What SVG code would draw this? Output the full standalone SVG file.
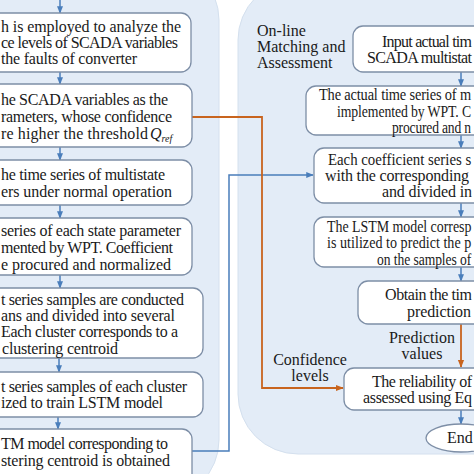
<svg xmlns="http://www.w3.org/2000/svg" width="474" height="474" viewBox="0 0 474 474">
<defs>
<style>
.panel{fill:#e3ecf7;stroke:#d4e0ee;stroke-width:1}
.box{fill:#ffffff;stroke:#7d8ea6;stroke-width:1.3}
.t{font-family:"Liberation Serif","Times New Roman",serif;font-size:16px;fill:#1a1a1a}
.m{text-anchor:middle}
.blue{fill:none;stroke:#4a7ebb;stroke-width:1.5}
.orange{fill:none;stroke:#c8641e;stroke-width:1.8}
</style>
<marker id="ab" viewBox="0 0 10 10" refX="9" refY="5" markerWidth="5" markerHeight="5" orient="auto"><path d="M0,1 L10,5 L0,9 z" fill="#4a7ebb"/></marker>
<marker id="ao" viewBox="0 0 10 10" refX="9" refY="5" markerWidth="4.5" markerHeight="4.5" orient="auto"><path d="M0,1 L10,5 L0,9 z" fill="#c8641e"/></marker>
</defs>
<rect width="474" height="474" fill="#ffffff"/>
<rect class="panel" x="-100" y="-40" width="319" height="540" rx="60"/>
<rect class="panel" x="238" y="-20" width="300" height="474" rx="60"/>

<g id="connectors">
<path class="blue" d="M60,0 V13" marker-end="url(#ab)"/>
<path class="blue" d="M60,72 V84" marker-end="url(#ab)"/>
<path class="blue" d="M60,147 V160" marker-end="url(#ab)"/>
<path class="blue" d="M60,205 V218" marker-end="url(#ab)"/>
<path class="blue" d="M60,275 V288" marker-end="url(#ab)"/>
<path class="blue" d="M59,358 V372" marker-end="url(#ab)"/>
<path class="blue" d="M58,417 V429" marker-end="url(#ab)"/>
<path class="blue" d="M461,72 V86" marker-end="url(#ab)"/>
<path class="blue" d="M461,135 V148" marker-end="url(#ab)"/>
<path class="blue" d="M461,203 V217" marker-end="url(#ab)"/>
<path class="blue" d="M461,267 V281" marker-end="url(#ab)"/>
<path class="blue" d="M461,410 V424" marker-end="url(#ab)"/>
<path class="blue" d="M192,451 H229 V175 H313" marker-end="url(#ab)"/>
<path class="orange" d="M192,117 H262 V388 H343" marker-end="url(#ao)"/>
<path class="orange" d="M461,324 V367" marker-end="url(#ao)"/>
</g>

<g id="labels">
<text class="t" x="257" y="36">On-line</text>
<text class="t" x="257" y="52">Matching and</text>
<text class="t" x="257" y="68">Assessment</text>
<text class="t m" x="422" y="343">Prediction</text>
<text class="t m" x="422" y="359">values</text>
<text class="t m" x="310" y="365">Confidence</text>
<text class="t m" x="310" y="381">levels</text>
</g>

<g id="node-l1">
<rect class="box" x="-80" y="13" width="271" height="59" rx="10"/>
<text class="t" x="1" y="32" textLength="180">h is employed to analyze the</text>
<text class="t" x="1" y="48" textLength="177">ce levels of SCADA variables</text>
<text class="t" x="1" y="64" textLength="136">the faults of converter</text>
</g>
<g id="node-l2">
<rect class="box" x="-80" y="84" width="272" height="63" rx="10"/>
<text class="t" x="1" y="105" textLength="167">he SCADA variables as the</text>
<text class="t" x="1" y="122" textLength="171">rameters, whose confidence</text>
<text class="t" x="1" y="139" textLength="147">re higher the threshold</text>
<text class="t" x="150" y="139" font-style="italic">Q<tspan font-size="10" dy="3">ref</tspan></text>
</g>
<g id="node-l3">
<rect class="box" x="-80" y="160" width="272" height="45" rx="10"/>
<text class="t" x="1" y="180" textLength="164">he time series of multistate</text>
<text class="t" x="1" y="197" textLength="171">ers under normal operation</text>
</g>
<g id="node-l4">
<rect class="box" x="-80" y="218" width="272" height="57" rx="10"/>
<text class="t" x="1" y="236" textLength="180">series of each state parameter</text>
<text class="t" x="1" y="253" textLength="172">mented by WPT. Coefficient</text>
<text class="t" x="1" y="270" textLength="170">e procured and normalized</text>
</g>
<g id="node-l5">
<rect class="box" x="-80" y="288" width="283" height="70" rx="10"/>
<text class="t" x="1" y="305" textLength="183">t series samples are conducted</text>
<text class="t" x="1" y="321" textLength="174">ans and divided into several</text>
<text class="t" x="1" y="337" textLength="177">Each cluster corresponds to a</text>
<text class="t" x="2" y="354" textLength="116">clustering centroid</text>
</g>
<g id="node-l6">
<rect class="box" x="-80" y="372" width="283" height="45" rx="10"/>
<text class="t" x="1" y="392" textLength="186">t series samples of each cluster</text>
<text class="t" x="1" y="408" textLength="162">ized to train LSTM model</text>
</g>
<g id="node-l7">
<rect class="box" x="-80" y="429" width="272" height="60" rx="10"/>
<text class="t" x="1" y="449" textLength="167">TM model corresponding to</text>
<text class="t" x="1" y="466" textLength="169">stering centroid is obtained</text>
</g>

<g id="node-r1">
<rect class="box" x="353" y="26" width="200" height="46" rx="10"/>
<text class="t" x="382" y="47" textLength="90">Input actual tim</text>
<text class="t" x="367" y="63" textLength="105">SCADA multistat</text>
</g>
<g id="node-r2">
<rect class="box" x="306" y="86" width="260" height="49" rx="10"/>
<text class="t" transform="translate(319,100) scale(0.9,1)" textLength="169">The actual time series of m</text>
<text class="t" transform="translate(337,117) scale(0.86,1)" textLength="156">implemented by WPT. C</text>
<text class="t" transform="translate(392,133) scale(0.85,1)" textLength="93">procured and n</text>
</g>
<g id="node-r3">
<rect class="box" x="314" y="148" width="250" height="55" rx="10"/>
<text class="t" transform="translate(328,165) scale(0.93,1)" textLength="154">Each coefficient series s</text>
<text class="t" x="325" y="181" textLength="144">with the corresponding</text>
<text class="t" x="382" y="197" textLength="90">and divided in</text>
</g>
<g id="node-r4">
<rect class="box" x="314" y="217" width="250" height="50" rx="10"/>
<text class="t" transform="translate(327,232) scale(0.87,1)" textLength="166">The LSTM model corresp</text>
<text class="t" transform="translate(327,248) scale(0.88,1)" textLength="164">is utilized to predict the p</text>
<text class="t" transform="translate(377,265) scale(0.85,1)" textLength="111">on the samples of</text>
</g>
<g id="node-r5">
<rect class="box" x="358" y="281" width="200" height="43" rx="10"/>
<text class="t" x="385" y="300" textLength="87">Obtain the tim</text>
<text class="t" x="407" y="317" textLength="64">prediction</text>
</g>
<g id="node-r6">
<rect class="box" x="344" y="368" width="220" height="42" rx="10"/>
<text class="t" x="372" y="387" textLength="100">The reliability of</text>
<text class="t" x="363" y="403" textLength="109">assessed using Eq</text>
</g>
<g id="node-end">
<ellipse class="box" cx="461" cy="438" rx="35" ry="14"/>
<text class="t" x="447" y="443">End</text>
</g>
</svg>
